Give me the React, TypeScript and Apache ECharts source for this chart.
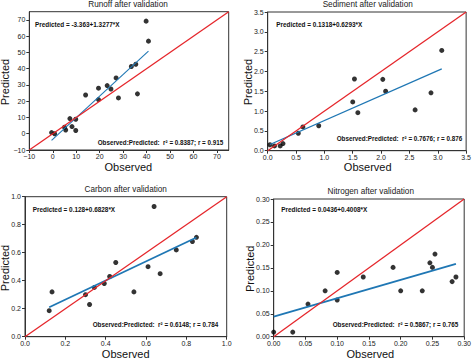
import React, { useEffect, useRef } from "react";
import * as echarts from "echarts";

// ---------- Data ----------
const panelTitles = [
  "Runoff after validation",
  "Sediment after validation",
  "Carbon after validation",
  "Nitrogen after validation",
];

const runoffObserved = [-0.5, 0.8, 5, 5.5, 7.3, 8.2, 9.8, 9.8, 14, 19.5, 19.5, 23.2, 24.8, 27, 28, 33.5, 35.4, 36.1, 39.8, 40.8];
const runoffPredicted = [0.7, 0, 4, 2.3, 9.3, 4.4, 8.9, 2, 23.8, 28, 21, 29.6, 27.5, 34.3, 22, 41.3, 42.7, 24.5, 69.2, 56.9];

const sedimentObserved = [0.04, 0.12, 0.22, 0.27, 0.54, 0.62, 0.9, 1.5, 1.53, 1.59, 2.03, 2.08, 2.6, 2.88, 3.07];
const sedimentPredicted = [0.15, 0.12, 0.12, 0.18, 0.44, 0.6, 0.63, 1.23, 1.81, 0.96, 1.8, 1.5, 1.03, 1.46, 2.53];

const carbonObserved = [0.12, 0.134, 0.3, 0.32, 0.344, 0.393, 0.42, 0.45, 0.54, 0.61, 0.64, 0.67, 0.75, 0.83, 0.85];
const carbonPredicted = [0.186, 0.32, 0.3, 0.23, 0.352, 0.38, 0.43, 0.53, 0.32, 0.5, 0.93, 0.45, 0.62, 0.68, 0.71];

const nitrogenObserved = [0.0, 0.03, 0.054, 0.081, 0.1, 0.1, 0.141, 0.188, 0.2, 0.234, 0.246, 0.25, 0.254, 0.281, 0.287];
const nitrogenPredicted = [0.01, 0.01, 0.071, 0.1, 0.14, 0.08, 0.13, 0.151, 0.1, 0.1, 0.161, 0.151, 0.18, 0.12, 0.13];

const regIntercepts = [-3.363, 0.1318, 0.128, 0.0436];
const regSlopes = [1.3277, 0.6293, 0.6828, 0.4008];

const equationTexts = [
  "Predicted = -3.363+1.3277*X",
  "Predicted = 0.1318+0.6293*X",
  "Predicted = 0.128+0.6828*X",
  "Predicted = 0.0436+0.4008*X",
];
const statsTexts = [
  "Observed:Predicted:  r² = 0.8387; r = 0.915",
  "Observed:Predicted:  r² = 0.7676; r = 0.876",
  "Observed:Predicted:  r² = 0.6148; r = 0.784",
  "Observed:Predicted:  r² = 0.5867; r = 0.765",
];

const runoffTicks = [-10, 0, 10, 20, 30, 40, 50, 60, 70];
const sedimentTicks = [0, 0.5, 1, 1.5, 2, 2.5, 3, 3.5];
const carbonTicks = [0, 0.2, 0.4, 0.6, 0.8, 1.0];
const nitrogenTicks = [0, 0.05, 0.1, 0.15, 0.2, 0.25, 0.3];

const axisRanges = [
  [-10, 75],
  [0, 3.5],
  [0, 1],
  [0, 0.3],
];
const tickDecimals = [0, 1, 1, 2];

// ---------- Layout ----------
const FONT = "Liberation Sans, Arial, sans-serif";
const grids = [
  { left: 29.3, top: 11.7, width: 199.4, height: 138.3 },
  { left: 267.7, top: 12, width: 198.6, height: 138.7 },
  { left: 25, top: 196.7, width: 201.7, height: 140 },
  { left: 273.7, top: 199, width: 192, height: 137.7 },
];
const titlePos = [
  [128, 0],
  [367.7, 0],
  [125.7, 185.5],
  [370.7, 187],
];
const obsNamePos = [
  [128.3, 166.7],
  [367.7, 166.7],
  [125.7, 354],
  [370.3, 354],
];
const predNamePos = [
  [5, 82],
  [247.5, 82],
  [5, 268],
  [250, 268.8],
];
const eqPos = [
  [35, 24],
  [276.3, 24.7],
  [32.7, 209.7],
  [281.3, 209.7],
];
const statsPos = [
  [223.3, 142.3],
  [462.3, 138.3],
  [218.3, 324],
  [458.3, 324],
];
const blueWidths = [1.1, 1.3, 1.8, 1.8];

const RED = "#e5262b";
const BLUE = "#1f77b4";
const AX = "#333";

function buildOption() {
  const obsList = [runoffObserved, sedimentObserved, carbonObserved, nitrogenObserved];
  const predList = [runoffPredicted, sedimentPredicted, carbonPredicted, nitrogenPredicted];
  const tickList = [runoffTicks, sedimentTicks, carbonTicks, nitrogenTicks];

  const xAxis: any[] = [];
  const yAxis: any[] = [];
  const series: any[] = [];
  const graphic: any[] = [];

  for (let i = 0; i < 4; i++) {
    const [mn, mx] = axisRanges[i];
    const dec = tickDecimals[i];
    const ticks = tickList[i];
    const common = {
      type: "value",
      gridIndex: i,
      min: mn,
      max: mx,
      splitLine: { show: false },
      axisLine: { show: true, onZero: false, lineStyle: { color: AX, width: 1 } },
      axisTick: { show: true, length: 3, customValues: ticks, lineStyle: { color: AX } },
      axisLabel: {
        customValues: ticks,
        fontSize: 7,
        color: "#222",
        fontFamily: FONT,
        margin: 3,
        formatter: (v: number) => (v < 0 ? "\u2212" + Math.abs(v).toFixed(dec) : v.toFixed(dec)),
      },
    };
    xAxis.push({ ...common });
    yAxis.push({ ...common, axisLabel: { ...common.axisLabel, margin: 4 } });

    const obs = obsList[i];
    const pred = predList[i];
    series.push({
      type: "scatter",
      xAxisIndex: i,
      yAxisIndex: i,
      data: obs.map((o, k) => [o, pred[k]]),
      symbolSize: 5,
      itemStyle: { color: "#000" },
      clip: false,
      z: 2,
    });
    const xLo = Math.min(...obs);
    const xHi = Math.max(...obs);
    series.push({
      type: "line",
      xAxisIndex: i,
      yAxisIndex: i,
      data: [
        [xLo, regIntercepts[i] + regSlopes[i] * xLo],
        [xHi, regIntercepts[i] + regSlopes[i] * xHi],
      ],
      showSymbol: false,
      symbol: "none",
      lineStyle: { color: BLUE, width: blueWidths[i] },
      z: 3,
    });
    series.push({
      type: "line",
      xAxisIndex: i,
      yAxisIndex: i,
      data: [
        [mn, mn],
        [mx, mx],
      ],
      showSymbol: false,
      symbol: "none",
      lineStyle: { color: RED, width: 1.3 },
      z: 4,
    });

    graphic.push({
      type: "text",
      x: obsNamePos[i][0],
      y: obsNamePos[i][1],
      style: {
        text: "Observed",
        fontSize: 11,
        fontFamily: FONT,
        fill: "#111",
        textAlign: "center",
        textVerticalAlign: "middle",
      },
    });
    graphic.push({
      type: "text",
      x: predNamePos[i][0],
      y: predNamePos[i][1],
      rotation: Math.PI / 2,
      style: {
        text: "Predicted",
        fontSize: 11,
        fontFamily: FONT,
        fill: "#111",
        textAlign: "center",
        textVerticalAlign: "middle",
      },
    });
    graphic.push({
      type: "text",
      x: eqPos[i][0],
      y: eqPos[i][1],
      z: 10,
      style: {
        text: equationTexts[i],
        fontSize: 6.4,
        fontWeight: "bold",
        fontFamily: FONT,
        fill: "#111",
        textAlign: "left",
        textVerticalAlign: "middle",
      },
    });
    graphic.push({
      type: "text",
      x: statsPos[i][0],
      y: statsPos[i][1],
      z: 10,
      style: {
        text: statsTexts[i],
        fontSize: 6.3,
        fontWeight: "bold",
        fontFamily: FONT,
        fill: "#111",
        textAlign: "right",
        textVerticalAlign: "middle",
      },
    });
  }

  const title = panelTitles.map((t, i) => ({
    text: t,
    left: titlePos[i][0],
    top: titlePos[i][1],
    textAlign: "center",
    padding: 0,
    textStyle: { fontSize: 8.2, fontWeight: "normal", color: "#222", fontFamily: FONT },
  }));

  return {
    animation: false,
    backgroundColor: "#fff",
    title,
    grid: grids.map((g) => ({ ...g, show: true, borderColor: AX, borderWidth: 1, backgroundColor: "transparent" })),
    xAxis,
    yAxis,
    series,
    graphic,
  };
}

export default function App() {
  const ref = useRef<HTMLDivElement>(null);
  useEffect(() => {
    document.body.style.margin = "0";
    if (!ref.current) return;
    const chart = echarts.init(ref.current, undefined, { renderer: "svg" });
    chart.setOption(buildOption() as any);
    return () => chart.dispose();
  }, []);
  return <div ref={ref} style={{ width: 474, height: 361 }} />;
}
